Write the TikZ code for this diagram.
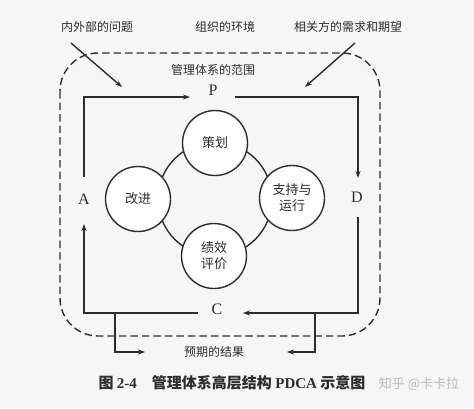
\documentclass[tikz,border=0pt]{standalone}
\usepackage{fontspec}
\setmainfont{Liberation Serif}
\newfontfamily\cjk{Noto Sans CJK SC}
\usetikzlibrary{arrows.meta}
\definecolor{ink}{RGB}{45, 45, 45}
\definecolor{paper}{RGB}{246, 246, 244}

\begin{document}
\begin{tikzpicture}[x=1pt, y=-1pt, line width=1.4pt, color=ink,
  >={Stealth[length=7pt, width=5pt]},
  lbl/.style={font=\cjk\fontsize{12}{14}\selectfont},
  letter/.style={font=\fontsize{16}{18}\selectfont, inner sep=1pt},
  phase/.style={circle, draw, fill=white, minimum size=65pt, inner sep=0pt,
    align=center, font=\cjk\fontsize{13}{16}\selectfont},
  scopeline/.style={dashed, dash pattern=on 7.5pt off 4pt, rounded corners=38pt}]

  \fill[paper] (0, 0) rectangle (474, 408);

  % inputs
  \node[lbl] (issues) at (97, 27) {内外部的问题};
  \node[lbl] (context) at (225, 27) {组织的环境};
  \node[lbl] (needs) at (348, 27) {相关方的需求和期望};

  % scope of the management system
  \draw[scopeline] (60, 53) rectangle (380, 336);
  \node[lbl] (range) at (213, 70) {管理体系的范围};

  \draw[->] (71, 43) -- (122, 87);
  \draw[->] (355, 43) -- (305, 87);

  % PDCA loop
  \node[letter] (P) at (213, 90) {P};
  \node[letter] (D) at (357, 197) {D};
  \node[letter] (C) at (217, 309) {C};
  \node[letter] (A) at (84, 199) {A};

  \draw[->] (84, 177) |- (190, 97);
  \draw[->] (235, 97) -| (358, 178);
  \draw[->] (358, 217) |- (243, 313);
  \draw[->] (198, 313) -| (84, 224);

  % outputs
  \node[lbl] (result) at (214, 352) {预期的结果};
  \draw[->] (115, 313) |- (145, 352);
  \draw[->] (315, 313) |- (287, 352);

  % core cycle
  \draw (215, 199) circle (57);
  \node[phase] (plan) at (215, 143) {策划};
  \node[phase] (do) at (292, 198) {支持与\\运行};
  \node[phase] (check) at (214, 256) {绩效\\评价};
  \node[phase] (act) at (138, 199) {改进};

  % caption
  \node[font=\cjk\bfseries\fontsize{15}{17}\selectfont] (caption) at (232, 383)
    {图 {\rmfamily 2-4}\quad 管理体系高层结构 {\rmfamily PDCA} 示意图};
  \node[font=\cjk\fontsize{13}{15}\selectfont, color=gray!55] (mark) at (419, 384)
    {知乎 @卡卡拉};

\end{tikzpicture}
\end{document}
